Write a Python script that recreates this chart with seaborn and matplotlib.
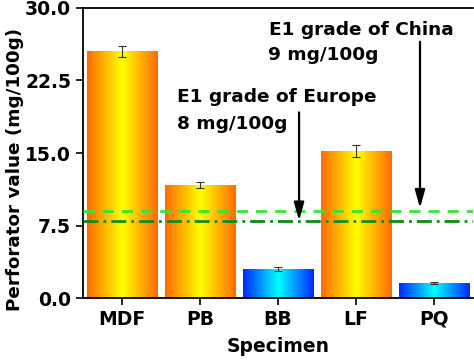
import numpy as np
import pandas as pd
import seaborn as sns
import matplotlib
matplotlib.use('Agg')
import matplotlib.pyplot as plt
from matplotlib.colors import LinearSegmentedColormap

specimens = ['MDF', 'PB', 'BB', 'LF', 'PQ']
values = [25.5, 11.7, 3.0, 15.2, 1.55]
errors = [0.6, 0.35, 0.25, 0.6, 0.1]
kind = ['wood', 'wood', 'other', 'wood', 'other']
europe_limit = 8
china_limit = 9

sns.set_style('ticks')
plt.rcParams['font.family'] = ['DejaVu Sans']
plt.rcParams['font.weight'] = 'bold'
plt.rcParams['text.color'] = 'black'
plt.rcParams['axes.labelcolor'] = 'black'
plt.rcParams['xtick.color'] = 'black'
plt.rcParams['ytick.color'] = 'black'

df = pd.DataFrame({'Specimen': specimens, 'value': values})

fig = plt.figure(figsize=(4.74, 3.6), dpi=100)
ax = fig.add_axes([0.175, 0.172, 0.823, 0.806])

sns.barplot(data=df, x='Specimen', y='value', color='white', width=0.9,
            linewidth=0, ax=ax)

cmaps = {
    'wood': LinearSegmentedColormap.from_list('w', ['#ff6a00', '#ffff00', '#ff6a00']),
    'other': LinearSegmentedColormap.from_list('o', ['#0028ff', '#00ffff', '#0028ff']),
}
grad = np.linspace(0, 1, 256).reshape(1, -1)
for patch, k in zip(ax.patches, kind):
    x0, y0 = patch.get_x(), patch.get_y()
    w, h = patch.get_width(), patch.get_height()
    im = ax.imshow(grad, cmap=cmaps[k], aspect='auto', interpolation='bicubic',
                   extent=[x0, x0 + w, y0, y0 + h], zorder=2)
    im.set_clip_path(patch)

ax.errorbar(range(len(specimens)), values, yerr=errors, fmt='none',
            ecolor='#333333', elinewidth=0.8, capsize=3, capthick=0.8, zorder=4)

ax.axhline(china_limit, color='#33e833', lw=2, ls=(0, (4, 2.9)), zorder=3)
ax.axhline(europe_limit, color='#138a13', lw=2, ls=(0, (5.4, 1.8, 1, 1.8)), zorder=3)

arrow = dict(arrowstyle='-|>,head_length=0.9,head_width=0.25', color='black',
             lw=1.6, mutation_scale=12, shrinkA=0, shrinkB=0)
ax.annotate('', xy=(2.27, europe_limit), xytext=(2.27, 19.2),
            arrowprops=arrow, zorder=5)
ax.annotate('', xy=(3.82, china_limit + 0.3), xytext=(3.82, 26.5),
            arrowprops=arrow, zorder=5)

tkw = dict(fontsize=13.3, fontweight='bold', ha='left', va='baseline')
ax.text(0.71, 20.3, 'E1 grade of Europe', **tkw)
ax.text(0.71, 17.5, '8 mg/100g', **tkw)
ax.text(1.88, 27.2, 'E1 grade of China', **tkw)
ax.text(1.87, 24.6, '9 mg/100g', **tkw)

ax.set_xlim(-0.5, 4.5)
ax.set_ylim(0, 30)
ax.set_yticks([0, 7.5, 15, 22.5, 30])
ax.set_yticklabels(['%.1f' % v for v in [0, 7.5, 15, 22.5, 30]])
ax.set_xlabel('Specimen', fontsize=13.5, fontweight='bold', labelpad=6)
ax.set_ylabel('Perforator value (mg/100g)', fontsize=13.2, fontweight='bold')
ax.yaxis.set_label_coords(-0.152, 0.445)
ax.tick_params(labelsize=13.5, direction='out', length=5, width=1.2)

for s in ['left', 'bottom', 'top']:
    ax.spines[s].set_linewidth(1.3)
    ax.spines[s].set_color('black')
ax.spines['right'].set_visible(False)

fig.savefig('out.png', dpi=100)
